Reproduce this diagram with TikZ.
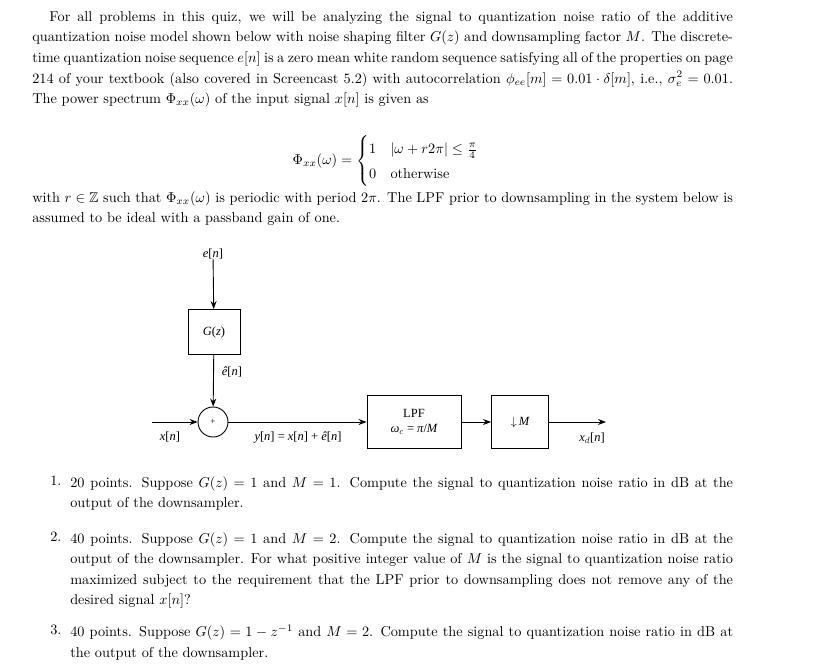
\documentclass[tikz,border=0pt]{standalone}
\usepackage{amsmath,amssymb}
\usepackage{fontspec}
\newfontfamily\figfont{Liberation Serif}
\usetikzlibrary{arrows.meta}
\newcommand{\fvar}[1]{{\itshape #1}}
\begin{document}
\begin{tikzpicture}[x=1pt,y=-1pt,
  para/.style={anchor=north west,inner sep=0pt,scale=1.43,text width=490pt,align=justify,font=\fontsize{10}{14.4}\selectfont},
  item/.style={anchor=north west,inner sep=0pt,scale=1.43,text width=463.5pt,align=justify,font=\fontsize{10}{14.4}\selectfont},
  num/.style={anchor=north west,inner sep=0pt,scale=1.43,font=\fontsize{10}{14.4}\selectfont},
  blk/.style={draw,line width=0.9pt,inner sep=0pt,font=\figfont\fontsize{12.5}{14}\selectfont},
  lab/.style={inner sep=0pt,font=\figfont\fontsize{12.5}{14}\selectfont},
  sig/.style={line width=0.9pt,-{Stealth[length=8pt,width=6pt]}}]
\useasboundingbox (0,0) rectangle (825,670);
\node[para] (p1) at (32,11) {\hspace*{12pt}For all problems in this quiz, we will be analyzing the signal to quantization noise ratio of the additive quantization noise model shown below with noise shaping filter $G(z)$ and downsampling factor $M$. The discrete-time quantization noise sequence $e[n]$ is a zero mean white random sequence satisfying all of the properties on page 214 of your textbook (also covered in Screencast 5.2) with autocorrelation $\phi_{ee}[m]=0.01\cdot\delta[m]$, i.e., $\sigma_e^2=0.01$. The power spectrum $\Phi_{xx}(\omega)$ of the input signal $x[n]$ is given as};
\node[inner sep=0pt,scale=1.43,font=\fontsize{10}{14.4}\selectfont] (eq) at (386,161) {$\Phi_{xx}(\omega)=\begin{cases}1 & |\omega+r2\pi|\le\frac{\pi}{4}\\ 0 & \text{otherwise}\end{cases}$};
\node[para] (p2) at (32,191) {with $r\in\mathbb{Z}$ such that $\Phi_{xx}(\omega)$ is periodic with period $2\pi$. The LPF prior to downsampling in the system below is assumed to be ideal with a passband gain of one.};
% diagram
\node[lab] (en) at (213,254) {\fvar{e}[\fvar{n}]};
\node[blk,minimum width=52pt,minimum height=45pt] (G) at (214,332) {\fvar{G}(\fvar{z})};
\node[draw,circle,line width=0.9pt,minimum size=30pt,inner sep=0pt,font=\figfont\fontsize{9}{10}\selectfont] (sum) at (213,422) {+};
\node[lab] (eh) at (232,372) {\fvar{ê}[\fvar{n}]};
\coordinate (xin) at (152,422);
\node[lab] (xn) at (170,437) {\fvar{x}[\fvar{n}]};
\node[lab] (yn) at (298,437) {\fvar{y}[\fvar{n}] = \fvar{x}[\fvar{n}] + \fvar{ê}[\fvar{n}]};
\node[blk,minimum width=94pt,minimum height=53pt,align=center] (lpf) at (414,422) {LPF\\[1pt]\fvar{ω}$_c$ = \fvar{π}/\fvar{M}};
\node[blk,minimum width=57pt,minimum height=53pt] (ds) at (520,422) {$\downarrow$\,\fvar{M}};
\coordinate (xout) at (606,422);
\node[lab] (xd) at (592,438) {\fvar{x}$_d$[\fvar{n}]};
\draw[sig] (en) -- (G);
\draw[sig] (G) -- (sum);
\draw[sig] (xin) -- (sum);
\draw[sig] (sum) -- (lpf);
\draw[sig] (lpf) -- (ds);
\draw[sig] (ds) -- (xout);
% problems
\node[num] (n1) at (50,476) {1.};
\node[item] (i1) at (70,476) {20 points. Suppose $G(z)=1$ and $M=1$. Compute the signal to quantization noise ratio in dB at the output of the downsampler.};
\node[num] (n2) at (50,532) {2.};
\node[item] (i2) at (70,532) {40 points. Suppose $G(z)=1$ and $M=2$. Compute the signal to quantization noise ratio in dB at the output of the downsampler. For what positive integer value of $M$ is the signal to quantization noise ratio maximized subject to the requirement that the LPF prior to downsampling does not remove any of the desired signal $x[n]$?};
\node[num] (n3) at (50,625) {3.};
\node[item] (i3) at (70,625) {40 points. Suppose $G(z)=1-z^{-1}$ and $M=2$. Compute the signal to quantization noise ratio in dB at the output of the downsampler.};
\end{tikzpicture}
\end{document}
